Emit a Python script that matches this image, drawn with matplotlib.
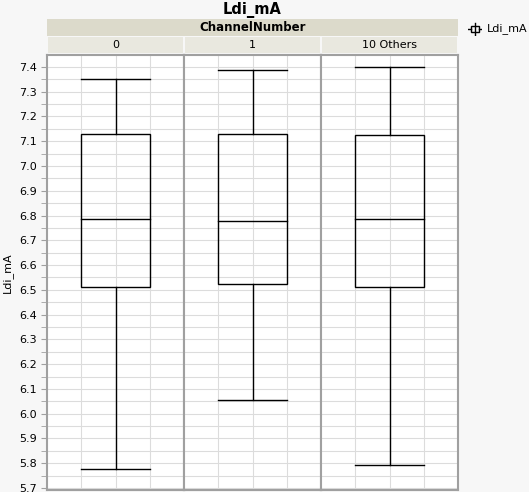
import matplotlib

matplotlib.use("Agg")
import matplotlib.pyplot as plt
from matplotlib.patches import Rectangle
import numpy as np

groups = ["0", "1", "10 Others"]
whisk_lo = [5.776, 6.055, 5.793]
q1 = [6.511, 6.524, 6.511]
median = [6.786, 6.778, 6.786]
q3 = [7.129, 7.129, 7.125]
whisk_hi = [7.352, 7.388, 7.400]

W, H = 529, 492
fig = plt.figure(figsize=(W / 100, H / 100), dpi=100, facecolor="#f7f7f7")


def box(x0, y0, x1, y1):
    return [x0 / W, 1 - y1 / H, (x1 - x0) / W, (y1 - y0) / H]


left, right, top, bottom = 47, 458, 55, 490
pw = (right - left) / 3
ylim = (5.692, 7.448)
gray = "#a0a0a0"

fig.text((left + right) / 2 / W, 1 - 10 / H, "Ldi_mA", ha="center", va="center",
         fontsize=10.5, fontweight="bold", family="DejaVu Sans")

hdr = fig.add_axes(box(left, 19, right, 36))
hdr.set_facecolor("#dcdacb")
hdr.set_xticks([]); hdr.set_yticks([])
for s in hdr.spines.values():
    s.set_visible(False)
hdr.text(0.5, 0.5, "ChannelNumber", ha="center", va="center", fontsize=8.5,
         fontweight="bold", transform=hdr.transAxes)

for i, g in enumerate(groups):
    x0 = left + i * pw
    sub = fig.add_axes(box(x0 + 1, 37, x0 + pw - 1, 53))
    sub.set_facecolor("#e9e8df")
    sub.set_xticks([]); sub.set_yticks([])
    for s in sub.spines.values():
        s.set_visible(False)
    sub.text(0.5, 0.5, g, ha="center", va="center", fontsize=8, transform=sub.transAxes)

    ax = fig.add_axes(box(x0, top, x0 + pw, bottom))
    ax.set_facecolor("white")
    ax.set_xlim(0, 1)
    ax.set_ylim(*ylim)
    ax.set_yticks(np.arange(5.7, 7.41, 0.1))
    ax.set_yticks(np.arange(5.75, 7.41, 0.1), minor=True)
    ax.set_xticks([0.25, 0.5, 0.75])
    ax.grid(True, which="both", color="#dcdcdc", lw=0.8)
    ax.set_axisbelow(True)
    ax.tick_params(axis="x", length=0, labelbottom=False)
    for s in ax.spines.values():
        s.set_color(gray)
        s.set_linewidth(1.5)
    if i == 0:
        ax.set_yticklabels([f"{v:.1f}" for v in np.arange(5.7, 7.41, 0.1)], fontsize=8)
        ax.tick_params(axis="y", which="both", length=4, color=gray)
        ax.set_ylabel("Ldi_mA", fontsize=8)
    else:
        ax.tick_params(axis="y", which="both", length=0, labelleft=False)

    ax.add_patch(Rectangle((0.25, q1[i]), 0.5, q3[i] - q1[i], fill=False,
                           ec="black", lw=1))
    ax.plot([0.25, 0.75], [median[i]] * 2, color="black", lw=1)
    ax.plot([0.5, 0.5], [q3[i], whisk_hi[i]], color="black", lw=1)
    ax.plot([0.5, 0.5], [whisk_lo[i], q1[i]], color="black", lw=1)
    ax.plot([0.25, 0.75], [whisk_hi[i]] * 2, color="black", lw=1)
    ax.plot([0.25, 0.75], [whisk_lo[i]] * 2, color="black", lw=1)

# legend glyph
lg = fig.add_axes(box(468, 22, 482, 36))
lg.set_xlim(0, 1); lg.set_ylim(0, 1); lg.axis("off")
lg.add_patch(Rectangle((0.2, 0.3), 0.6, 0.4, fill=False, ec="black", lw=1))
lg.plot([0.5, 0.5], [0.05, 0.95], color="black", lw=1)
lg.plot([0.0, 0.2], [0.5, 0.5], color="black", lw=1)
lg.plot([0.8, 1.0], [0.5, 0.5], color="black", lw=1)
fig.text(487 / W, 1 - 29 / H, "Ldi_mA", ha="left", va="center", fontsize=8)

fig.savefig("out.png", dpi=100, facecolor=fig.get_facecolor())
